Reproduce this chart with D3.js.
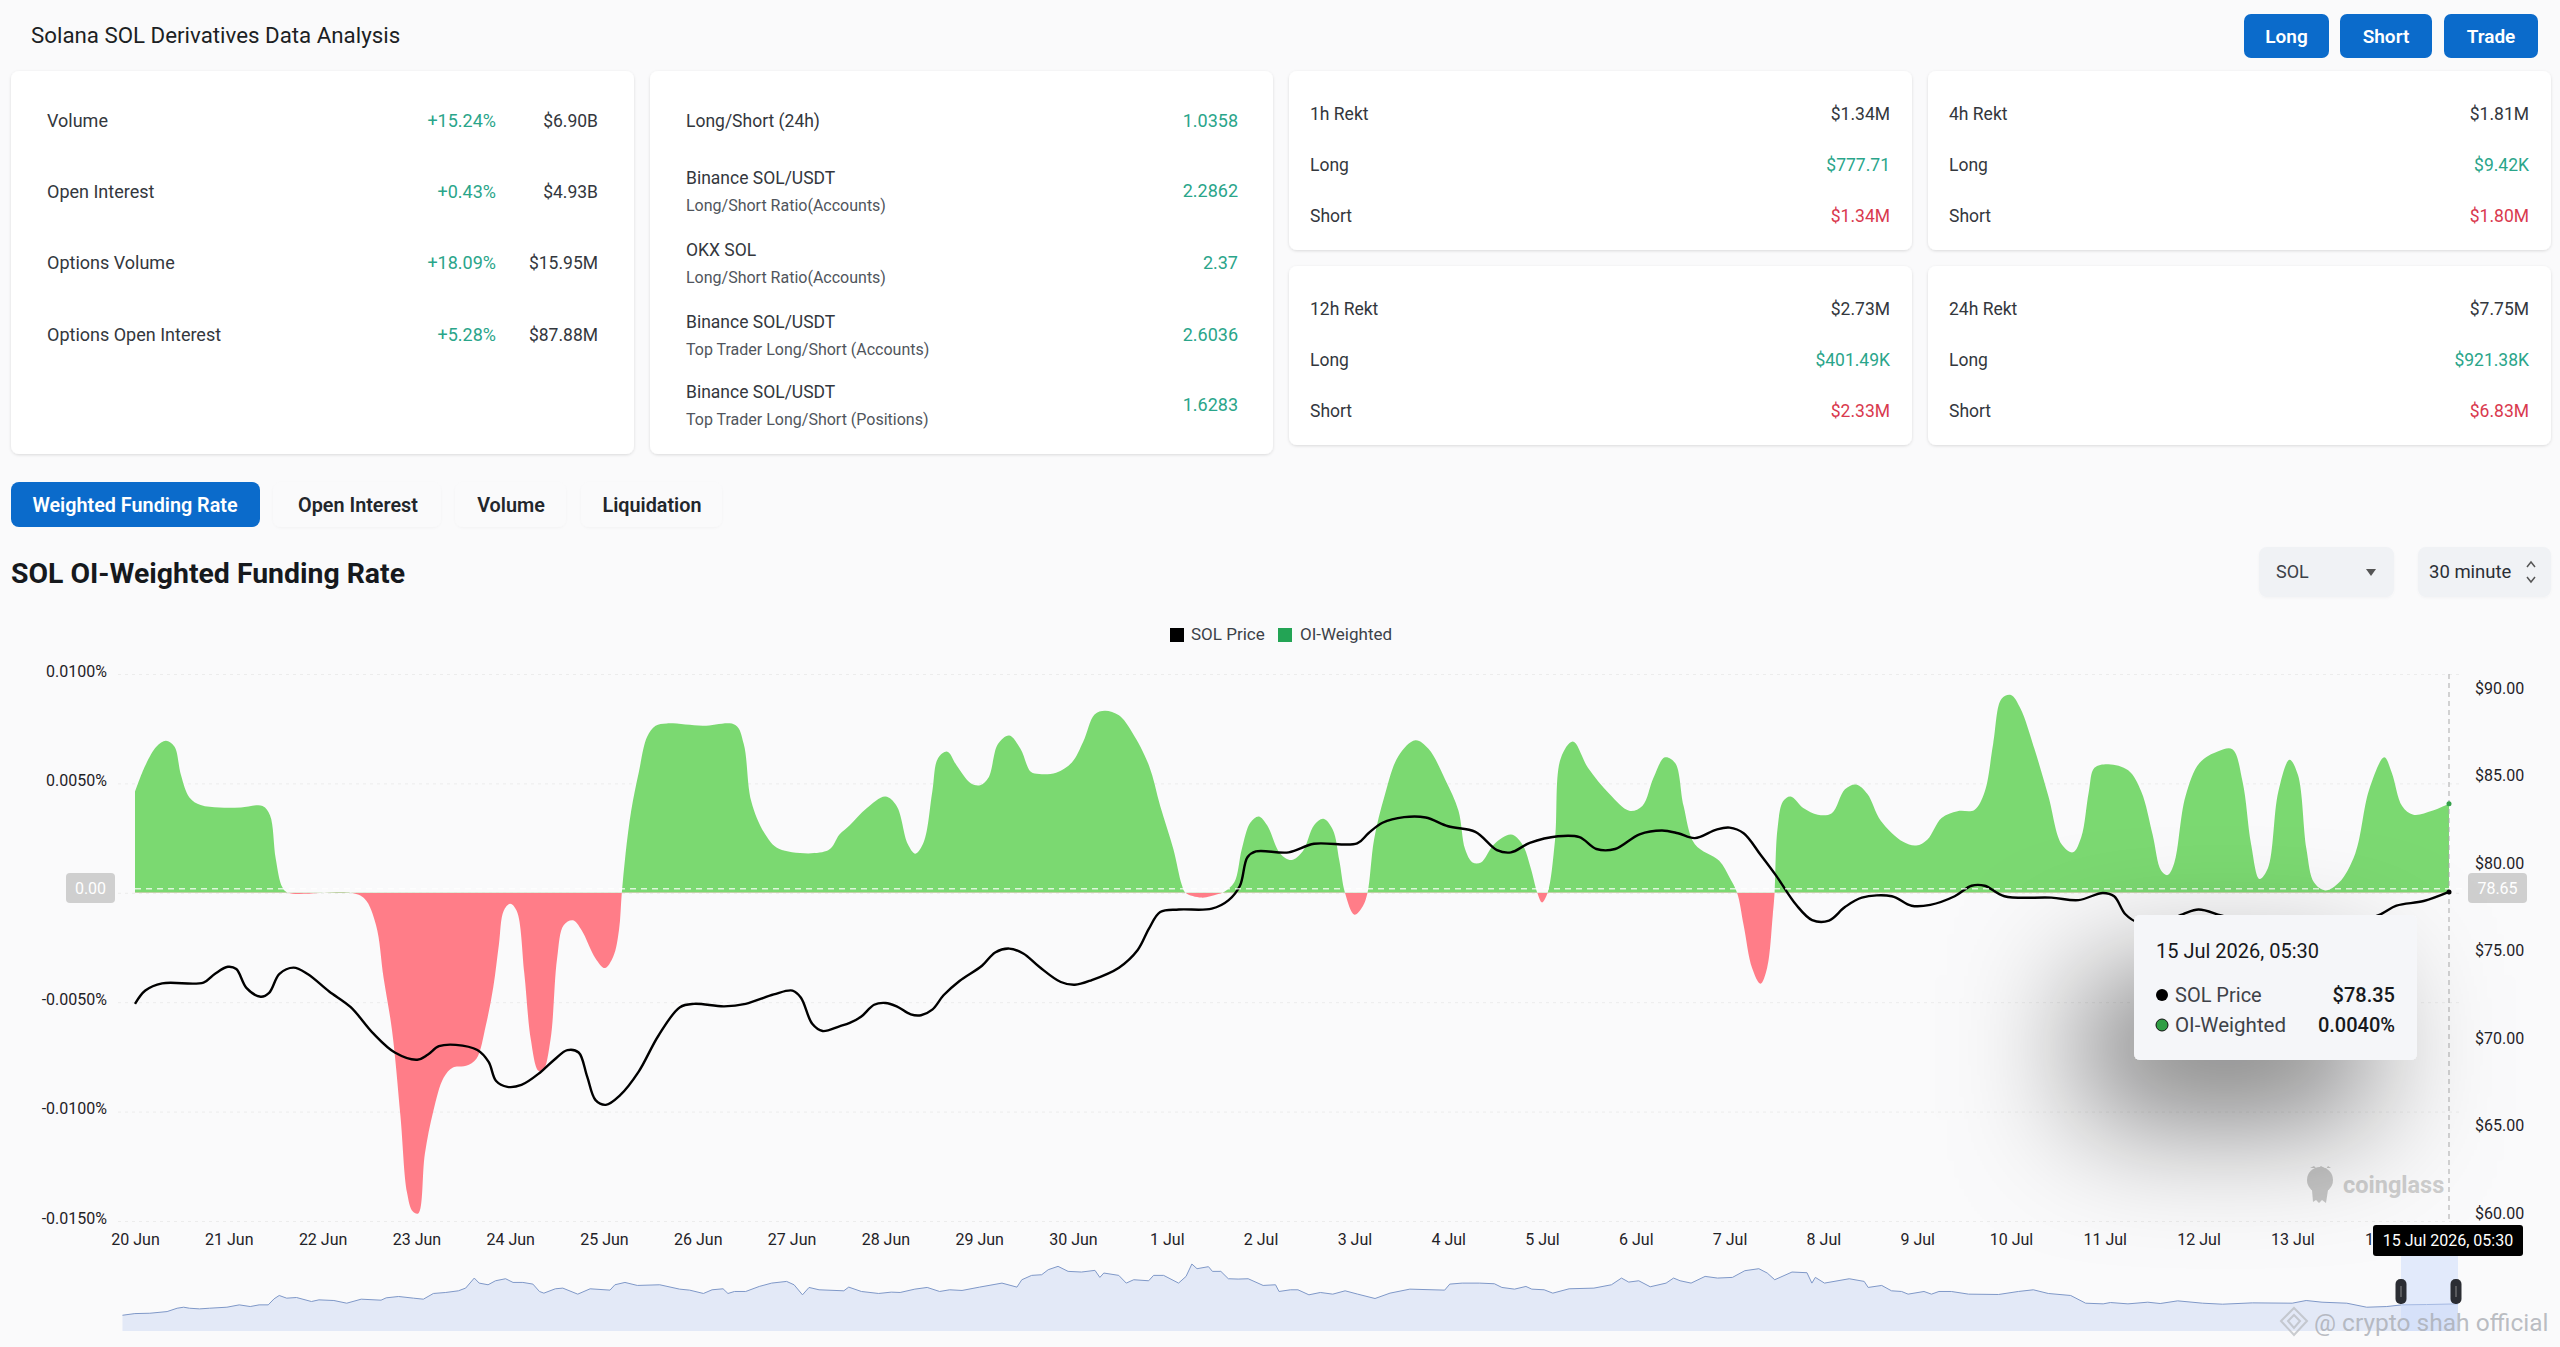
<!DOCTYPE html>
<html>
<head>
<meta charset="utf-8">
<title>SOL OI-Weighted Funding Rate</title>
<script src="https://cdn.jsdelivr.net/npm/d3@7"></script>
<style>
  html, body { margin: 0; padding: 0; background: #fafafb; overflow: hidden; }
  svg { display: block; }
  text { font-family: Roboto, "Noto Sans", sans-serif; }
</style>
</head>
<body>
<svg id="page" width="2560" height="1347"></svg>
<script>
// ---- page text ----
const marketRows = [
    ['Volume', '+15.24%', '$6.90B'],
    ['Open Interest', '+0.43%', '$4.93B'],
    ['Options Volume', '+18.09%', '$15.95M'],
    ['Options Open Interest', '+5.28%', '$87.88M']
];
const ratioRows = [
    ['Long/Short (24h)', '', '1.0358'],
    ['Binance SOL/USDT', 'Long/Short Ratio(Accounts)', '2.2862'],
    ['OKX SOL', 'Long/Short Ratio(Accounts)', '2.37'],
    ['Binance SOL/USDT', 'Top Trader Long/Short (Accounts)', '2.6036'],
    ['Binance SOL/USDT', 'Top Trader Long/Short (Positions)', '1.6283']
];
const rektCards = [
    ['1h Rekt', '$1.34M', '$777.71', '$1.34M'],
    ['4h Rekt', '$1.81M', '$9.42K', '$1.80M'],
    ['12h Rekt', '$2.73M', '$401.49K', '$2.33M'],
    ['24h Rekt', '$7.75M', '$921.38K', '$6.83M']
];
const tabLabels = ['Weighted Funding Rate', 'Open Interest', 'Volume', 'Liquidation'];
const buttonLabels = ['Long', 'Short', 'Trade'];

// ---- chart ticks (day offset from 20 Jun) ----
const dayLabels = ['20 Jun','21 Jun','22 Jun','23 Jun','24 Jun','25 Jun','26 Jun','27 Jun','28 Jun','29 Jun','30 Jun',
    '1 Jul','2 Jul','3 Jul','4 Jul','5 Jul','6 Jul','7 Jul','8 Jul','9 Jul','10 Jul','11 Jul','12 Jul','13 Jul','14 Jul'];
const fundingTicks = [10, 5, 0, -5, -10, -15];   // in 0.001 %
const priceTicks = [90, 85, 80, 75, 70, 65, 60];

// ---- funding rate, in 0.001 % ----
const fundingDays = [0,.11,.23,.33,.42,.49,.58,.70,.90,1.13,1.36,1.44,1.50,1.57,1.63,2.30,2.45,2.57,2.65,2.74,2.83,2.90,2.96,3.02,3.09,3.18,3.29,3.39,3.53,3.64,3.74,3.82,3.88,3.93,4.00,4.07,4.15,4.22,4.30,4.35,4.43,4.50,4.57,4.67,4.76,4.91,5.01,5.10,5.16,5.19,5.23,5.29,5.37,5.46,5.55,5.67,6.05,6.40,6.49,6.57,6.72,6.87,7.39,7.51,7.62,7.80,8.0,8.12,8.24,8.32,8.41,8.50,8.56,8.66,8.76,8.91,9.01,9.10,9.20,9.32,9.44,9.55,9.64,9.82,9.99,10.11,10.23,10.34,10.49,10.63,10.81,10.93,11.07,11.16,11.20,11.37,11.54,11.61,11.72,11.80,11.89,11.98,12.07,12.21,12.33,12.45,12.57,12.67,12.77,12.84,12.90,13.0,13.09,13.14,13.21,13.32,13.47,13.65,13.79,13.97,14.11,14.18,14.26,14.35,14.49,14.67,14.79,14.88,14.95,15.0,15.06,15.14,15.20,15.33,15.49,15.72,15.93,16.07,16.19,16.31,16.42,16.51,16.63,16.89,17.0,17.08,17.15,17.24,17.33,17.40,17.46,17.48,17.51,17.57,17.65,17.79,17.94,18.09,18.23,18.35,18.47,18.61,18.85,18.99,19.11,19.26,19.43,19.61,19.72,19.81,19.90,20.0,20.10,20.25,20.40,20.54,20.66,20.75,20.83,20.89,21.04,21.25,21.39,21.51,21.60,21.67,21.74,21.86,22.01,22.21,22.36,22.47,22.56,22.65,22.74,22.85,22.97,23.06,23.15,23.23,23.35,23.50,23.67,23.82,23.98,24.06,24.17,24.29,24.49,24.67];
const fundingValues = [4.62,5.82,6.69,6.95,6.69,5.38,4.36,4.01,3.90,3.90,3.97,3.53,1.57,.26,0,0,-.28,-1.48,-3.88,-6.28,-10.2,-13.7,-14.56,-14.66,-11.94,-9.98,-8.45,-7.98,-7.91,-7.58,-6.06,-4.31,-2.35,-.83,-.50,-.83,-3.66,-6.71,-8.13,-8.13,-6.71,-3.0,-1.48,-1.26,-1.7,-3.0,-3.44,-2.9,-1.7,0,1.79,3.75,5.49,7.13,7.63,7.74,7.63,7.67,6.8,4.18,2.66,2.0,1.94,2.66,3.09,3.86,4.40,3.97,2.22,1.79,2.33,4.62,6.14,6.45,5.82,5.01,4.92,5.27,6.8,7.19,6.58,5.53,5.43,5.49,5.97,6.91,8.15,8.32,8.11,7.34,5.82,3.97,2.0,.37,0,-.22,-.07,.04,.48,2.0,3.2,3.49,3.09,1.79,1.5,1.9,3.09,3.38,2.88,1.46,0,-1.0,-.61,0,2.44,4.40,6.25,6.97,6.58,5.16,3.75,2.0,1.39,1.39,2.22,2.66,2.22,1.13,0,-.44,0,2.44,6.14,6.91,5.71,4.51,3.75,3.97,5.27,6.19,5.93,3.97,2.22,1.46,.70,0,-1.48,-3.44,-4.16,-3.44,-1.05,0,2.88,4.18,4.40,3.86,3.57,3.64,4.73,4.95,4.51,3.31,2.33,2.16,2.44,3.42,3.73,3.79,4.62,6.8,8.87,9.04,8.43,6.58,4.40,2.22,1.85,2.55,4.62,5.71,5.88,5.6,4.62,2.66,1.02,.81,1.35,4.40,5.93,6.47,6.56,5.06,2.22,.63,1.13,4.62,6.08,5.38,2.0,.48,.11,.48,1.79,4.73,6.19,5.49,3.97,3.57,3.75,4.07];

// ---- SOL price ----
const priceDays = [0,.11,.29,.73,.85,.99,1.08,1.19,1.34,1.43,1.54,1.69,1.84,2.07,2.30,2.54,2.77,3.01,3.12,3.24,3.42,3.65,3.77,3.85,3.97,4.12,4.32,4.47,4.61,4.73,4.82,4.91,5.02,5.17,5.37,5.58,5.81,5.96,6.28,6.51,6.81,7.01,7.10,7.22,7.33,7.51,7.62,7.74,7.88,8.0,8.12,8.27,8.38,8.50,8.62,8.79,9.03,9.17,9.32,9.47,9.64,9.87,10.02,10.20,10.49,10.69,10.81,10.93,11.13,11.48,11.66,11.78,11.86,11.95,12.30,12.57,13.03,13.15,13.30,13.53,13.76,14.0,14.29,14.52,14.67,14.87,15.17,15.40,15.58,15.78,16.04,16.28,16.45,16.63,16.86,17.0,17.15,17.33,17.50,17.71,17.88,18.06,18.23,18.41,18.73,18.94,19.14,19.40,19.58,19.72,19.93,20.43,20.72,20.98,21.10,21.22,21.36,21.55,21.83,22.0,22.24,22.55,23.1,23.6,23.94,24.11,24.40,24.67];
const priceValues = [71.95,72.71,73.12,73.17,73.66,74.07,73.94,72.85,72.36,72.58,73.66,74.02,73.66,72.66,71.76,70.26,69.17,68.76,69.04,69.53,69.61,69.31,68.63,67.54,67.21,67.32,68.03,68.76,69.31,69.17,67.81,66.45,66.18,66.72,68.08,70.13,71.76,71.95,71.81,71.95,72.49,72.71,72.3,70.81,70.4,70.67,70.86,71.21,71.9,72.0,71.81,71.35,71.3,71.62,72.44,73.26,74.13,74.89,75.11,74.83,74.07,73.2,73.04,73.31,74.02,75.03,76.25,77.2,77.34,77.39,77.88,78.7,80.33,80.66,80.61,81.1,81.12,81.7,82.3,82.62,82.6,82.1,81.78,80.74,80.61,81.15,81.53,81.48,80.8,80.8,81.64,81.86,81.7,81.42,81.91,82.02,81.7,80.47,79.25,77.61,76.74,76.71,77.48,78.02,78.1,77.56,77.61,78.1,78.7,78.7,78.1,78.02,77.88,78.29,78.1,77.07,76.58,76.5,77.07,77.34,77.0,76.5,76.4,76.5,77.07,77.56,77.83,78.35];

// ---- overview strip under the chart, arbitrary units ----
const overviewPos = [.2,5.5,11.9,19.3,23.6,26.4,28.9,33.2,37.4,44.9,50.2,54.9,58.7,62.6,65.1,67.3,70.5,74.7,81.1,84.3,
    90.7,96.2,102.4,110.9,113.1,118.4,124.8,129,133.3,138.6,144,147.1,150.8,152.9,156.7,159.9,164.2,167.4,171.6,175.9,
    178.7,180.6,185.5,188.7,195.1,200.4,208.9,211,215.3,220.6,230.2,238.7,243,248.9,252.6,257.3,259.4,262.2,267,272.8,
    278.1,284.5,287.7,291.3,294.1,298.4,309,311.1,316.5,323.9,329.3,333.1,
    339.4,344.7,350,354.3,359.6,367.1,376.7,383.1,385.2,389.4,393.7,396.5,400.7,405,410.7,416.5,418.6,420.3,426.7,429.9,
    433.1,439.5,441.6,445.9,452.3,455.5,458,460.2,465.1,466.8,470.4,473.6,477.8,482.1,488.5,493.8,495.3,500.2,503.4,508.1,
    513,518.3,523.6,529,536.4,542.8,551.3,566.2,568.4,573.7,581.1,587.5,590.7,596.1,601,603.5,608.8,612.5,619.5,630.1,
    637.6,641.9,645,649.3,654.2,661,664.2,
    667,671.7,677.7,683,689.4,694.7,700.7,704.3,707.5,714.9,721.3,723.4,724.9,728.8,739.4,745.8,747.5,753.3,757.5,761.8,
    764.6,771.4,774.6,777.8,783.1,790.5,803.3,811.8,818.2,824.6,834.2,840.6,848.1,851.2,858.7,867.2,872.5,880,890.7,899.2,
    912,929,935,941.8,952.4,960.9,969.5,975.9,986.5,1000];
const overviewValues = [47,52,53,58,68,71,68,66,68,71,78,73,78,78,96,106,98,100,88,93,
    91,83,95,92,99,103,98,95,112,115,120,128,158,143,138,150,156,145,145,140,
    118,113,126,128,110,126,122,138,145,136,138,125,122,112,123,126,112,118,118,133,
    143,148,138,108,130,123,120,131,118,112,116,115,
    125,130,118,123,121,131,143,131,153,166,168,183,193,178,176,181,160,173,166,143,
    153,150,166,166,143,163,200,186,192,178,178,156,155,156,136,138,118,123,123,108,
    115,110,120,110,97,113,125,122,140,143,143,141,130,125,133,125,123,113,126,128,
    138,158,146,150,132,143,158,
    150,143,163,158,160,180,186,173,153,176,174,143,160,143,156,148,130,136,120,118,
    110,118,110,118,118,110,109,118,123,112,106,83,81,85,81,86,82,90,83,80,
    84,83,91,86,83,71,73,78,79,81];

const svg = d3.select('#page');
const BLUE = '#0b6bcb', GREEN_TXT = '#2aa58a', RED_TXT = '#d9394e', INK = '#33373d';

const defs = svg.append('defs');
const cardShadow = defs.append('filter').attr('id', 'cardShadow')
    .attr('x', '-5%').attr('y', '-5%').attr('width', '110%').attr('height', '110%');
cardShadow.append('feDropShadow').attr('dx', 0).attr('dy', 1).attr('stdDeviation', 1.5)
    .attr('flood-color', '#000').attr('flood-opacity', 0.13);
const softShadow = defs.append('filter').attr('id', 'softShadow')
    .attr('x', '-5%').attr('y', '-10%').attr('width', '110%').attr('height', '125%');
softShadow.append('feDropShadow').attr('dx', 0).attr('dy', 1).attr('stdDeviation', 1.2)
    .attr('flood-color', '#000').attr('flood-opacity', 0.03);
const tipShadow = defs.append('filter').attr('id', 'tipShadow').attr('filterUnits', 'userSpaceOnUse')
    .attr('x', 1600).attr('y', 600).attr('width', 960).attr('height', 747);
tipShadow.append('feDropShadow').attr('dx', -50).attr('dy', 60).attr('stdDeviation', 62)
    .attr('flood-color', '#000').attr('flood-opacity', 0.5);

function label(g, x, y, txt, size, fill, anchor, weight) {
    return g.append('text').attr('x', x).attr('y', y).attr('dy', '0.35em')
        .attr('font-size', size).attr('fill', fill)
        .attr('text-anchor', anchor || 'start').attr('font-weight', weight || 400).text(txt);
}
function card(x0, y0, x1, y1) {
    svg.append('rect').attr('x', x0).attr('y', y0).attr('width', x1 - x0).attr('height', y1 - y0)
        .attr('rx', 8).attr('fill', '#fff').attr('filter', 'url(#cardShadow)');
}

// ---- header ----
label(svg, 31, 35, 'Solana SOL Derivatives Data Analysis', 22.3, '#1c1f24');
[[2244, 2329], [2340, 2432], [2444, 2538]].forEach((b, i) => {
    svg.append('rect').attr('x', b[0]).attr('y', 14).attr('width', b[1] - b[0]).attr('height', 44).attr('rx', 7).attr('fill', BLUE);
    label(svg, (b[0] + b[1]) / 2, 36, buttonLabels[i], 19, '#fff', 'middle', 600);
});

// ---- stat cards ----
card(11, 71, 634, 454);
marketRows.forEach((r, i) => {
    const y = [121, 192, 263, 335][i];
    label(svg, 47, y, r[0], 18, INK);
    label(svg, 496, y, r[1], 18, GREEN_TXT, 'end');
    label(svg, 598, y, r[2], 17.5, INK, 'end');
});
card(650, 71, 1273, 454);
ratioRows.forEach((r, i) => {
    const y = [121, 191, 263, 335, 405][i];
    if (r[1]) {
        label(svg, 686, y - 13, r[0], 17.5, INK);
        label(svg, 686, y + 14, r[1], 16, '#50555c');
    } else {
        label(svg, 686, y, r[0], 17.5, INK);
    }
    label(svg, 1238, y, r[2], 18, GREEN_TXT, 'end');
});
const rektBoxes = [[1289, 71, 1912, 250], [1928, 71, 2551, 250], [1289, 266, 1912, 445], [1928, 266, 2551, 445]];
rektCards.forEach((c, i) => {
    const b = rektBoxes[i];
    card(b[0], b[1], b[2], b[3]);
    const rows = [[c[0], c[1], INK], ['Long', c[2], GREEN_TXT], ['Short', c[3], RED_TXT]];
    rows.forEach((r, j) => {
        const y = b[1] + 43 + j * 50.7;
        label(svg, b[0] + 21, y, r[0], 17.5, INK);
        label(svg, b[2] - 22, y, r[1], 17.5, r[2], 'end');
    });
});

// ---- tabs and title ----
[[273, 441], [455, 566], [581, 722]].forEach(t => {
    svg.append('rect').attr('x', t[0]).attr('y', 482).attr('width', t[1] - t[0]).attr('height', 45).attr('rx', 8)
        .attr('fill', '#fafafb').attr('filter', 'url(#softShadow)');
});
svg.append('rect').attr('x', 11).attr('y', 482).attr('width', 249).attr('height', 45).attr('rx', 8).attr('fill', BLUE);
[135, 358, 511, 652].forEach((cx, i) => {
    label(svg, cx, 505, tabLabels[i], 19.8, i === 0 ? '#fff' : '#22262b', 'middle', 600);
});
label(svg, 11, 573, 'SOL OI-Weighted Funding Rate', 28.4, '#16191d', 'start', 700);
svg.append('rect').attr('x', 2259).attr('y', 547).attr('width', 135).attr('height', 50).attr('rx', 8).attr('fill', '#f0f2f5').attr('filter', 'url(#softShadow)');
svg.append('rect').attr('x', 2418).attr('y', 547).attr('width', 133).attr('height', 50).attr('rx', 8).attr('fill', '#f0f2f5').attr('filter', 'url(#softShadow)');
label(svg, 2276, 572, 'SOL', 18, '#3c4148');
svg.append('path').attr('d', 'M2366,569h10l-5,7z').attr('fill', '#555');
label(svg, 2429, 572, '30 minute', 18.5, '#2b2f35');
svg.append('path').attr('d', 'M2527,567l4,-5l4,5M2527,577l4,5l4,-5').attr('fill', 'none').attr('stroke', '#555').attr('stroke-width', 1.5);

// ---- legend ----
svg.append('rect').attr('x', 1170).attr('y', 628).attr('width', 14).attr('height', 14).attr('fill', '#000');
label(svg, 1191, 634, 'SOL Price', 17, '#3c4148');
svg.append('rect').attr('x', 1278).attr('y', 628).attr('width', 14).attr('height', 14).attr('fill', '#23a455');
label(svg, 1300, 634, 'OI-Weighted', 17, '#3c4148');

// ---- chart ----
const x = d3.scaleLinear().domain([0, 24.67]).range([135, 2449]);
const yFunding = d3.scaleLinear().domain([-15, 10]).range([1221, 674]);
const yPrice = d3.scaleLinear().domain([60, 90]).range([1213, 688]);

const leftAxis = d3.axisLeft(yFunding).tickValues(fundingTicks)
    .tickSize(-(2462 - 118)).tickPadding(11)
    .tickFormat(d => (d / 1000).toFixed(4) + '%');
const gLeft = svg.append('g').attr('transform', 'translate(118,0)').call(leftAxis);
gLeft.select('.domain').remove();
gLeft.selectAll('line').attr('stroke', '#ececec').attr('stroke-dasharray', '3,4');
gLeft.selectAll('text').attr('font-size', 16).attr('fill', '#1f2227').attr('transform', 'translate(0,-3)');
gLeft.selectAll('.tick').filter(d => d === 0).select('text').remove();

const rightAxis = d3.axisRight(yPrice).tickValues(priceTicks).tickSize(0).tickPadding(13)
    .tickFormat(d => '$' + d.toFixed(2));
const gRight = svg.append('g').attr('transform', 'translate(2462,0)').call(rightAxis);
gRight.select('.domain').remove();
gRight.selectAll('text').attr('font-size', 16).attr('fill', '#1f2227');

const bottomAxis = d3.axisBottom(x).tickValues(dayLabels.map((d, i) => i)).tickSize(0).tickPadding(0)
    .tickFormat(i => dayLabels[i]);
const gBottom = svg.append('g').attr('transform', 'translate(0,1234)').call(bottomAxis);
gBottom.select('.domain').remove();
gBottom.selectAll('text').attr('font-size', 16).attr('fill', '#1f2227');

// funding area, split at zero with two clips
const zeroY = yFunding(0);
defs.append('clipPath').attr('id', 'aboveZero').append('rect').attr('x', 0).attr('y', 0).attr('width', 2560).attr('height', zeroY);
defs.append('clipPath').attr('id', 'belowZero').append('rect').attr('x', 0).attr('y', zeroY).attr('width', 2560).attr('height', 1347 - zeroY);
const fundingArea = d3.area().curve(d3.curveCatmullRom.alpha(0.5))
    .x(d => x(d[0])).y0(zeroY).y1(d => yFunding(d[1]));
const fundingData = d3.zip(fundingDays, fundingValues);
svg.append('path').datum(fundingData).attr('d', fundingArea).attr('fill', '#7bd971').attr('clip-path', 'url(#aboveZero)');
svg.append('path').datum(fundingData).attr('d', fundingArea).attr('fill', '#ff7d88').attr('clip-path', 'url(#belowZero)');

const priceLine = d3.line().curve(d3.curveCatmullRom.alpha(0.5)).x(d => x(d[0])).y(d => yPrice(d[1]));
svg.append('path').datum(d3.zip(priceDays, priceValues)).attr('d', priceLine)
    .attr('fill', 'none').attr('stroke', '#000').attr('stroke-width', 2.4);

// hover pointer
const pointerY = yPrice(78.65) + 2;
svg.append('line').attr('x1', 135).attr('x2', 2462).attr('y1', pointerY).attr('y2', pointerY)
    .attr('stroke', '#fff').attr('stroke-opacity', 0.75).attr('stroke-width', 1.5).attr('stroke-dasharray', '6,5');
svg.append('line').attr('x1', x(24.67)).attr('x2', x(24.67)).attr('y1', 674).attr('y2', 1221)
    .attr('stroke', '#a9a9a9').attr('stroke-dasharray', '5,4');
svg.append('rect').attr('x', 66).attr('y', 873).attr('width', 49).attr('height', 30).attr('rx', 4).attr('fill', '#cfcfcf');
label(svg, 90.5, 888, '0.00', 16, '#fff', 'middle');
svg.append('rect').attr('x', 2468).attr('y', 873).attr('width', 59).attr('height', 30).attr('rx', 4).attr('fill', '#cfcfcf');
label(svg, 2497.5, 888, '78.65', 16, '#fff', 'middle');
svg.append('circle').attr('cx', x(24.67)).attr('cy', yPrice(78.35)).attr('r', 2.5).attr('fill', '#000');
svg.append('circle').attr('cx', x(24.67)).attr('cy', yFunding(4.07)).attr('r', 2.5).attr('fill', '#34a04a');

// watermark
const logo = svg.append('g').attr('fill', '#c6c6c6');
logo.append('circle').attr('cx', 2320).attr('cy', 1180).attr('r', 13);
logo.append('path').attr('d', 'M2310,1168h21l-3,-2l-2,3l-5,-3l-4,3l-3,-3zM2312,1190h16l-2,13l-4,-3l-3,3l-3,-3l-3,2z');
label(svg, 2343, 1185, 'coinglass', 23.5, '#cdcdcd', 'start', 700);

// ---- overview strip ----
const xOverview = d3.scaleLinear().domain([0, 1000]).range([122, 2458]);
const yOverview = d3.scaleLinear().domain([0, 200]).range([1331, 1264]);
const overviewData = d3.zip(overviewPos, overviewValues);
svg.append('path').datum(overviewData)
    .attr('d', d3.area().x(d => xOverview(d[0])).y0(yOverview(0)).y1(d => yOverview(d[1])))
    .attr('fill', '#e3e9f7');
svg.append('path').datum(overviewData)
    .attr('d', d3.line().x(d => xOverview(d[0])).y(d => yOverview(d[1])))
    .attr('fill', 'none').attr('stroke', '#7f98c8').attr('stroke-width', 1);
svg.append('rect').attr('x', 2401).attr('y', 1256).attr('width', 57).attr('height', 75)
    .attr('fill', '#c9d9fb').attr('fill-opacity', 0.5);
[2401, 2456].forEach(hx => {
    svg.append('rect').attr('x', hx - 5.5).attr('y', 1279).attr('width', 11).attr('height', 25).attr('rx', 5).attr('fill', '#2b2d33');
    svg.append('line').attr('x1', hx).attr('x2', hx).attr('y1', 1286).attr('y2', 1297).attr('stroke', '#888');
});

// axis pointer label sits over the 14 Jul tick
svg.append('rect').attr('x', 2373).attr('y', 1225).attr('width', 150).attr('height', 31).attr('rx', 3).attr('fill', '#000');
label(svg, 2448, 1240, '15 Jul 2026, 05:30', 16, '#fff', 'middle');

// ---- tooltip ----
svg.append('rect').attr('x', 2134).attr('y', 915).attr('width', 283).attr('height', 145).attr('rx', 6)
    .attr('fill', '#f5f6f9').attr('filter', 'url(#tipShadow)');
label(svg, 2156, 951, '15 Jul 2026, 05:30', 20, '#17191c');
svg.append('circle').attr('cx', 2162).attr('cy', 995).attr('r', 6).attr('fill', '#000');
label(svg, 2175, 995, 'SOL Price', 20, '#3e4248');
label(svg, 2395, 995, '$78.35', 20, '#17191c', 'end', 500);
svg.append('circle').attr('cx', 2162).attr('cy', 1025).attr('r', 6).attr('fill', '#2f9e44').attr('stroke', '#111').attr('stroke-width', 1);
label(svg, 2175, 1025, 'OI-Weighted', 20.5, '#3e4248');
label(svg, 2395, 1025, '0.0040%', 20, '#17191c', 'end', 500);

// ---- credit watermark, bottom right ----
const credit = svg.append('g').attr('fill', 'none').attr('stroke', '#b9bcc2').attr('stroke-opacity', 0.75).attr('stroke-width', 2);
credit.append('path').attr('d', 'M2294,1308l13,13l-13,14l-13,-14z');
credit.append('path').attr('d', 'M2294,1315l6,6l-6,7l-6,-7z');
label(svg, 2314, 1322, '@ crypto shah official', 24.5, '#a9acb3').attr('fill-opacity', 0.8);
</script>
</body>
</html>
